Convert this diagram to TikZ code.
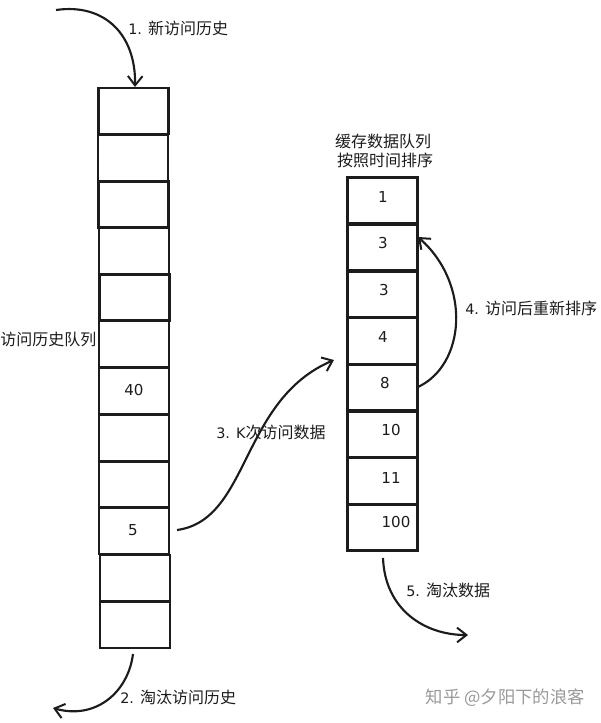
\documentclass[tikz,border=0pt]{standalone}
\usepackage{fontspec}
\setmainfont{DejaVu Sans}
\newfontfamily\cjk{Noto Sans CJK SC}
\usetikzlibrary{arrows.meta}
\definecolor{ink}{HTML}{1C1C1C}
\tikzset{
  cellbox/.style={draw=ink,line width=1.6pt,minimum width=52.5pt,minimum height=34.5pt,inner sep=0pt,anchor=center},
  num/.style={font=\fontsize{11.3}{13}\selectfont,text=ink,inner sep=0pt},
  lab/.style={font=\fontsize{10.8}{13}\selectfont,text=ink,anchor=west,inner sep=0pt},
  flow/.style={draw=ink,line width=1.6pt,-{Straight Barb[length=7pt,width=11pt,line width=1.5pt]}}
}
\begin{document}
\begin{tikzpicture}[x=0.75pt,y=-0.75pt]
\useasboundingbox (0,0) rectangle (600,723);
\foreach \n/\xx/\yy in {a1/133.5/111,a2/133/158,a3/133.5/204.5,a4/134/251,a5/134.5/297.5,a6/134/344,a7/134/391,a8/134/438,a9/134/484.5,a10/134/531,a11/135/578,a12/135/625}
  \node[cellbox] (\n) at (\xx,\yy) {};
\node[num] at (134,390) {40};
\node[num] at (133,530) {5};
\foreach \n/\yy in {b1/200.5,b2/247.5,b3/294.5,b4/341,b5/387.5,b6/434.5,b7/481,b8/527.5}
  \node[cellbox] (\n) at (382.5,\yy) {};
\node[num] at (383,197) {1};
\node[num] at (383,243) {3};
\node[num] at (384,290) {3};
\node[num] at (383,337) {4};
\node[num] at (385,383) {8};
\node[num] at (391,430) {10};
\node[num] at (391,478) {11};
\node[num] at (396,522) {100};
\node[lab] (l1) at (128,28) {1. {\cjk\fontsize{12}{13}\selectfont 新访问历史}};
\node[lab] (l2) at (120,697) {2. {\cjk\fontsize{12}{13}\selectfont 淘汰访问历史}};
\node[lab] (l3) at (216,432) {3. K{\cjk\fontsize{12}{13}\selectfont 次访问数据}};
\node[lab] (l4) at (465,308) {4. {\cjk\fontsize{12}{13}\selectfont 访问后重新排序}};
\node[lab] (l5) at (406,590) {5. {\cjk\fontsize{12}{13}\selectfont 淘汰数据}};
\node[lab,font=\cjk\fontsize{12}{13}\selectfont] (q) at (0,339) {访问历史队列};
\node[font=\cjk\fontsize{12}{14}\selectfont,text=ink,align=center,inner sep=0pt] (h) at (383,151) {缓存数据队列\\\hspace{3pt}按照时间排序};
\coordinate (s1) at (56,10); \coordinate (e1) at (135,87);
\draw[flow] (s1) .. controls (105,3) and (136,35) .. (e1);
\coordinate (s2) at (133,654); \coordinate (e2) at (53,708);
\draw[flow] (s2) .. controls (128,693) and (95,720) .. (e2);
\coordinate (s3) at (177,530); \coordinate (e3) at (334,360);
\draw[flow] (s3) .. controls (250,520) and (240,400) .. (e3);
\coordinate (s4) at (418,387); \coordinate (e4) at (418,237);
\draw[flow] (s4) .. controls (465,365) and (472,285) .. (e4);
\coordinate (s5) at (383,558); \coordinate (e5) at (468,635);
\draw[flow] (s5) .. controls (385,610) and (425,635) .. (e5);
\node[font=\cjk\fontsize{13}{14}\selectfont,text=gray!80,anchor=east,inner sep=0pt] (w) at (585,698) {知乎 @夕阳下的浪客};
\end{tikzpicture}
\end{document}
